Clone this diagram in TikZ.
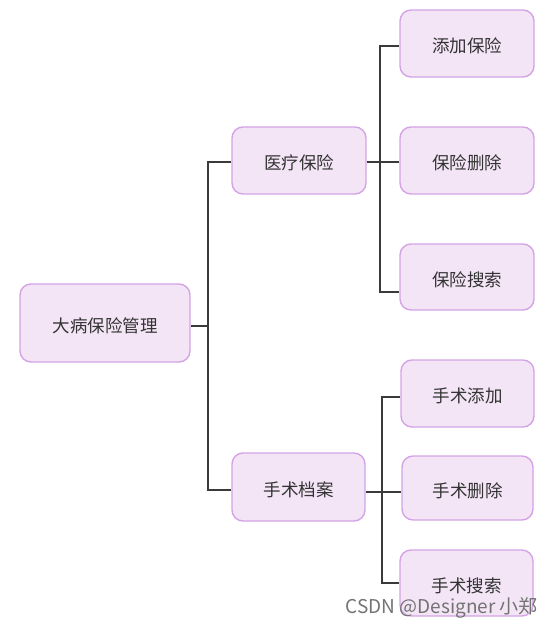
\documentclass[tikz,border=0pt]{standalone}
\usepackage{fontspec}
\setmainfont{Noto Sans CJK SC}
\newfontfamily\wmfont{Noto Sans CJK SC}
\definecolor{boxfill}{HTML}{F3E5F6}
\definecolor{boxdraw}{HTML}{D4A3E6}
\definecolor{linecol}{HTML}{3A3A3A}
\definecolor{txtcol}{HTML}{333333}
\begin{document}
\begin{tikzpicture}[x=1pt,y=-1pt,
  mbox/.style={draw=boxdraw,fill=boxfill,line width=1.4pt,rounded corners=11pt,
    inner sep=0pt,text=txtcol,text height=18pt,text depth=0pt,font=\fontsize{17.5}{19}\selectfont},
  conn/.style={draw=linecol,line width=1.8pt}]
\useasboundingbox (0,0) rectangle (553,629);
\node[mbox,minimum width=170pt,minimum height=78pt] (root) at (105,323) {大病保险管理};
\node[mbox,minimum width=134pt,minimum height=67pt] (med) at (299,160.5) {医疗保险};
\node[mbox,minimum width=133pt,minimum height=68pt] (sur) at (298.5,487) {手术档案};
\node[mbox,minimum width=134pt,minimum height=67pt] (a1) at (467,43.5) {添加保险};
\node[mbox,minimum width=134pt,minimum height=67pt] (a2) at (467,160.5) {保险删除};
\node[mbox,minimum width=134pt,minimum height=66pt] (a3) at (467,277) {保险搜索};
\node[mbox,minimum width=133pt,minimum height=67pt] (b1) at (467.5,393.5) {手术添加};
\node[mbox,minimum width=131pt,minimum height=64pt] (b2) at (467.5,488) {手术删除};
\node[mbox,minimum width=133pt,minimum height=66pt] (b3) at (466.5,583) {手术搜索};
% bus coordinates
\coordinate (j0) at (208,326);
\coordinate (j1) at (380,162);
\coordinate (j2) at (382,492);
% root level
\draw[conn] ([yshift=-3pt]root.east) -- (j0);
\draw[conn] ([yshift=-1.5pt]med.west) -- ([yshift=-1.5pt]med.west -| j0) -- ([yshift=-3pt]sur.west -| j0) -- ([yshift=-3pt]sur.west);
% upper branch
\draw[conn] ([yshift=-1.5pt]med.east) -- ([yshift=-1.5pt]a2.west);
\draw[conn] ([yshift=-2.5pt]a1.west) -- ([yshift=-2.5pt]a1.west -| j1) -- ([yshift=-15pt]a3.west -| j1) -- ([yshift=-15pt]a3.west);
% lower branch
\draw[conn] ([yshift=-5pt]sur.east) -- ([yshift=-4pt]b2.west);
\draw[conn] ([yshift=-3.5pt]b1.west) -- ([yshift=-3.5pt]b1.west -| j2) -- (b3.west -| j2) -- (b3.west);
% watermark
\node[text=black!55,font=\wmfont\fontsize{19}{21}\selectfont,anchor=east,inner sep=0pt] (wm) at (538,608) {CSDN @Designer 小郑};
\end{tikzpicture}
\end{document}
